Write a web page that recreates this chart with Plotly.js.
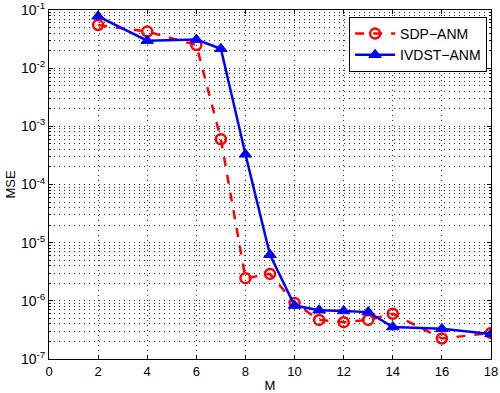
<!DOCTYPE html>
<html><head><meta charset="utf-8">
<script src="https://cdn.plot.ly/plotly-3.0.1.min.js"></script>
<style>html,body{margin:0;padding:0;background:#fff}</style>
</head><body><div id="chart" style="width:500px;height:393px"></div>
<script>
const M = [2, 4, 6, 7, 8, 9, 10, 11, 12, 13, 14, 16, 18];
const sdpANM = [0.055, 0.0425, 0.025, 6.0e-4, 2.45e-6, 2.9e-6, 9.2e-7, 4.7e-7, 4.3e-7, 4.7e-7, 6.0e-7, 2.25e-7, 2.8e-7];
const ivdstANM = [0.078, 0.0297, 0.031, 0.0216, 3.3e-4, 6.2e-6, 8.3e-7, 6.9e-7, 6.7e-7, 6.4e-7, 3.55e-7, 3.3e-7, 2.7e-7];
const xTicks = [0, 2, 4, 6, 8, 10, 12, 14, 16, 18];
const decades = [-7, -6, -5, -4, -3, -2, -1];

const yMajor = decades.map(d => Math.pow(10, d));
const yLabels = decades.map(d => '10<sup>' + d + '</sup>');
const yMinor = [];
decades.slice(0, -1).forEach(d => { for (let k = 2; k <= 9; k++) yMinor.push(k * Math.pow(10, d)); });

const traces = [
  {x: M, y: sdpANM, name: 'SDP\u2212ANM', type: 'scatter', mode: 'lines+markers',
   line: {color: '#ff0000', width: 2.5, dash: 'dash'},
   marker: {symbol: 'circle-open', size: 10, color: '#ff0000', line: {width: 2.5, color: '#ff0000'}}},
  {x: M, y: ivdstANM, name: 'IVDST\u2212ANM', type: 'scatter', mode: 'lines+markers',
   line: {color: '#0000ff', width: 2.5},
   marker: {symbol: 'triangle-up', size: 11, color: '#0000ff', line: {width: 1, color: '#0000ff'}}}
];

const gridStyle = {showgrid: true, gridcolor: '#333', griddash: '1px,4px', gridwidth: 1};

const layout = {
  width: 500, height: 393,
  margin: {l: 49, r: 9, t: 10, b: 34},
  paper_bgcolor: '#fff', plot_bgcolor: '#fff',
  font: {family: 'Liberation Sans, Arial, sans-serif', size: 13, color: '#000'},
  showlegend: true,
  legend: {x: 0.679, y: 0.98, xanchor: 'left', yanchor: 'top', bgcolor: '#fff',
           bordercolor: '#000', borderwidth: 1, font: {size: 14}, itemwidth: 40, tracegroupgap: 0},
  xaxis: Object.assign({range: [0, 18], tickvals: xTicks, ticktext: xTicks.map(String),
          showline: true, linecolor: '#000', linewidth: 1, mirror: 'ticks',
          ticks: 'inside', ticklen: 4, tickcolor: '#000', tickfont: {size: 13}, zeroline: false,
          title: {text: 'M', standoff: 4, font: {size: 13}}}, gridStyle),
  yaxis: Object.assign({type: 'log', range: [-7, -1], tickvals: yMajor, ticktext: yLabels,
          showline: true, linecolor: '#000', linewidth: 1, mirror: 'ticks',
          ticks: 'inside', ticklen: 4, tickcolor: '#000', tickfont: {size: 14}, zeroline: false,
          minor: {tickvals: yMinor, ticks: 'inside', ticklen: 2, tickcolor: '#000',
                  showgrid: true, gridcolor: '#333', griddash: '1px,4px', gridwidth: 1},
          title: {text: 'MSE', standoff: 2, font: {size: 13}}}, gridStyle)
};
Plotly.newPlot('chart', traces, layout, {displayModeBar: false, staticPlot: true});
</script></body></html>
